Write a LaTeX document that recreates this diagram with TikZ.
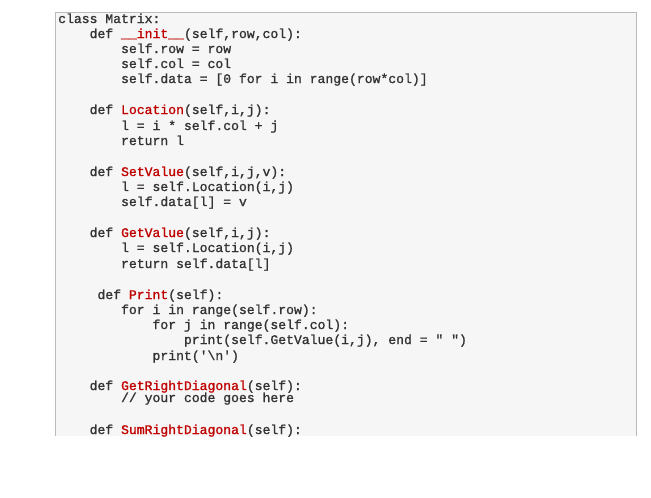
\documentclass[tikz,border=0pt]{standalone}
\usepackage{fontspec}
\newfontfamily\codefont[FakeBold=1.2]{Liberation Mono}
\definecolor{codegray}{HTML}{333333}
\definecolor{codered}{HTML}{C00000}
\definecolor{boxbg}{HTML}{F6F6F6}
\definecolor{boxline}{HTML}{BBBBBB}
\newcommand{\kw}[1]{\textcolor{codered}{#1}}
\begin{document}
\begin{tikzpicture}[x=1pt,y=-1pt,
  codeline/.style={anchor=base west,inner sep=0pt,font=\codefont\fontsize{13.1}{14}\selectfont,text=codegray}]
\useasboundingbox (0,0) rectangle (651,498);
\fill[boxbg] (55,12) rectangle (636,436);
\draw[boxline] (55,436) -- (55,12) -- (636,12) -- (636,436);
\def\cw{7.86}
\newcommand{\cl}[4]{\node[codeline] (#1) at (58+#3*\cw,#2) {#4};}
\cl{l1}{23}{0}{class Matrix:}
\cl{l2}{38}{4}{def \kw{\_\_init\_\_}(self,row,col):}
\cl{l3}{53}{8}{self.row = row}
\cl{l4}{68}{8}{self.col = col}
\cl{l5}{83}{8}{self.data = [0 for i in range(row*col)]}
\cl{l7}{114}{4}{def \kw{Location}(self,i,j):}
\cl{l8}{130}{8}{l = i * self.col + j}
\cl{l9}{145}{8}{return l}
\cl{l11}{176}{4}{def \kw{SetValue}(self,i,j,v):}
\cl{l12}{191}{8}{l = self.Location(i,j)}
\cl{l13}{206}{8}{self.data[l] = v}
\cl{l15}{237}{4}{def \kw{GetValue}(self,i,j):}
\cl{l16}{252}{8}{l = self.Location(i,j)}
\cl{l17}{268}{8}{return self.data[l]}
\cl{l19}{299}{5}{def \kw{Print}(self):}
\cl{l20}{314}{8}{for i in range(self.row):}
\cl{l21}{329}{12}{for j in range(self.col):}
\cl{l22}{344}{16}{print(self.GetValue(i,j), end = " ")}
\cl{l23}{360}{12}{print('\textbackslash n')}
\cl{l25}{390}{4}{def \kw{GetRightDiagonal}(self):}
\cl{l26}{402}{8}{// your code goes here}
\cl{l28}{434}{4}{def \kw{SumRightDiagonal}(self):}
\end{tikzpicture}
\end{document}
